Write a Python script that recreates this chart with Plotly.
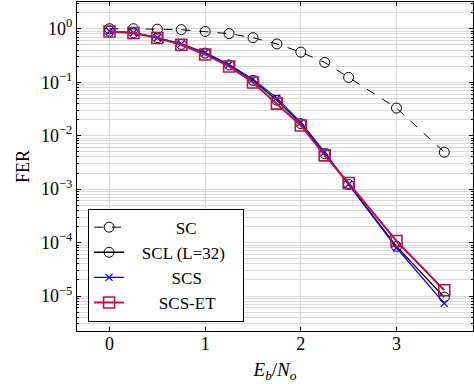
import plotly.graph_objects as go

# ---- data ----
x_sc = [0, 0.25, 0.5, 0.75, 1, 1.25, 1.5, 1.75, 2, 2.25, 2.5, 3, 3.5]
fer_sc = [1.0, 1.0, 0.98, 0.96, 0.89, 0.81, 0.68, 0.52, 0.365, 0.234, 0.123, 0.0328, 0.0049]

x_ll = [0, 0.25, 0.5, 0.75, 1, 1.25, 1.5, 1.75, 2, 2.25, 2.5, 3, 3.5]
fer_scl = [0.90, 0.84, 0.68, 0.51, 0.35, 0.21, 0.108, 0.046, 0.0168, 0.0046, 0.00122, 8.5e-5, 9.5e-6]
fer_scs = [0.90, 0.84, 0.68, 0.52, 0.36, 0.215, 0.114, 0.0504, 0.0177, 0.00494, 0.00123, 8.0e-5, 7.3e-6]
fer_scset = [0.89, 0.83, 0.67, 0.50, 0.33, 0.197, 0.099, 0.0397, 0.0155, 0.00428, 0.0013, 1.07e-4, 1.28e-5]

y_tickvals = [1, 1e-1, 1e-2, 1e-3, 1e-4, 1e-5]
y_ticktext = ["10<sup>0</sup>", "10<sup>−1</sup>", "10<sup>−2</sup>", "10<sup>−3</sup>",
              "10<sup>−4</sup>", "10<sup>−5</sup>"]
x_tickvals = [0, 1, 2, 3]

FONT = "Liberation Serif, Times New Roman, serif"
NB = "\u00a0"

fig = go.Figure()
fig.add_trace(go.Scatter(x=x_sc, y=fer_sc, mode="lines+markers", name=NB * 11 + "SC",
                         line=dict(color="black", width=1, dash="dash"),
                         marker=dict(symbol="circle-open", size=10, color="black", line=dict(width=1))))
fig.add_trace(go.Scatter(x=x_ll, y=fer_scl, mode="lines+markers", name=NB * 3 + "SCL (L=32)" + NB * 3,
                         line=dict(color="black", width=1.3),
                         marker=dict(symbol="circle-open", size=10, color="black", line=dict(width=1))))
fig.add_trace(go.Scatter(x=x_ll, y=fer_scs, mode="lines+markers", name=NB * 10 + "SCS",
                         line=dict(color="#0000ff", width=1.2),
                         marker=dict(symbol="x-thin-open", size=7, color="#0000ff", line=dict(width=1.3, color="#0000ff"))))
fig.add_trace(go.Scatter(x=x_ll, y=fer_scset, mode="lines+markers", name=NB * 7 + "SCS-ET",
                         line=dict(color="#c0104a", width=2),
                         marker=dict(symbol="square-open", size=11, color="#c0104a", line=dict(width=1.6))))

axis_common = dict(showline=True, linecolor="black", linewidth=1, mirror="ticks",
                   ticks="inside", tickcolor="black", ticklen=4, automargin=False,
                   gridcolor="#d9d9d9", gridwidth=1, zeroline=False,
                   tickfont=dict(family=FONT, size=18, color="black"))

fig.update_xaxes(range=[-0.34, 3.8], tickvals=x_tickvals, ticklabelstandoff=-4,
                 title=dict(text="<i>E</i><sub><i>b</i></sub>/<i>N</i><sub><i>o</i></sub>",
                            font=dict(family=FONT, size=19, color="black"), standoff=10),
                 **axis_common)
fig.update_yaxes(type="log", range=[-5.654, 0.50], tickvals=y_tickvals, ticktext=y_ticktext,
                 title=dict(text="FER", font=dict(family=FONT, size=18, color="black"), standoff=6),
                 minor=dict(dtick="D1", showgrid=True, gridcolor="#d9d9d9", ticks="inside",
                            ticklen=2, tickcolor="black"),
                 **axis_common)

fig.update_layout(
    width=474, height=384,
    margin=dict(l=77, r=1, t=2, b=53),
    plot_bgcolor="white", paper_bgcolor="white",
    font=dict(family=FONT, size=17, color="black"),
    showlegend=True,
    legend=dict(x=0.028, y=0.372, xanchor="left", yanchor="top",
                bgcolor="white", bordercolor="black", borderwidth=1,
                font=dict(family=FONT, size=17, color="black"),
                tracegroupgap=0, itemwidth=30),
)

fig.write_html("out.html", config={"displayModeBar": False},
               post_script="document.body.style.margin='0';")
